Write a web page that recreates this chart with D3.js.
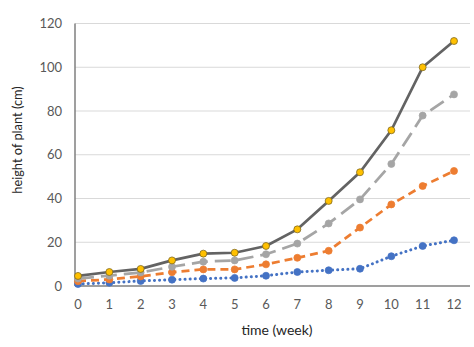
<!DOCTYPE html>
<html>
<head>
<meta charset="utf-8">
<script src="https://cdn.jsdelivr.net/npm/d3@7"></script>
<style>
  html, body { margin: 0; padding: 0; background: #fff; }
  svg text { font-family: Lato, "Open Sans", sans-serif; fill: #595959; }
</style>
</head>
<body>
<svg id="chart" width="474" height="347"></svg>
<script>
// weeks and plant heights (cm) for each series
const weeks = [0, 1, 2, 3, 4, 5, 6, 7, 8, 9, 10, 11, 12];
const blueHeights = [0.9, 1.5, 2.3, 2.9, 3.4, 3.7, 4.7, 6.4, 7.2, 7.9, 13.6, 18.3, 20.9];
const orangeHeights = [2.2, 3.0, 4.4, 6.3, 7.6, 7.6, 9.9, 12.9, 16.1, 26.7, 37.3, 45.7, 52.6];
const grayHeights = [3.4, 4.7, 6.2, 8.8, 11.1, 11.7, 14.5, 19.4, 28.6, 39.6, 55.8, 77.9, 87.6];
const darkHeights = [4.6, 6.4, 7.8, 11.7, 14.8, 15.2, 18.3, 25.9, 38.9, 52.0, 71.2, 100, 112];
const yTicks = [0, 20, 40, 60, 80, 100, 120];

const svg = d3.select("#chart");

const x = d3.scaleLinear().domain([0, 12]).range([78, 454]);
const y = d3.scaleLinear().domain([0, 120]).range([286, 23.5]);
const left = 75, right = 470;

// horizontal gridlines
svg.append("g")
   .selectAll("line")
   .data(yTicks.filter(d => d > 0))
   .join("line")
   .attr("x1", left).attr("x2", right)
   .attr("y1", d => y(d)).attr("y2", d => y(d))
   .attr("stroke", "#d9d9d9").attr("stroke-width", 1);

// y tick labels
svg.append("g")
   .selectAll("text")
   .data(yTicks)
   .join("text")
   .attr("x", 62)
   .attr("y", d => y(d))
   .attr("dy", "0.35em")
   .attr("text-anchor", "end")
   .attr("font-size", 13)
   .text(d => d);

// x tick labels
svg.append("g")
   .selectAll("text")
   .data(weeks)
   .join("text")
   .attr("x", d => x(d))
   .attr("y", 304)
   .attr("dy", "0.35em")
   .attr("text-anchor", "middle")
   .attr("font-size", 13)
   .text(d => d);

// axis lines
svg.append("line")
   .attr("x1", left).attr("x2", left)
   .attr("y1", y(120)).attr("y2", y(0))
   .attr("stroke", "#7f7f7f").attr("stroke-width", 1.5);
svg.append("line")
   .attr("x1", left).attr("x2", right)
   .attr("y1", y(0)).attr("y2", y(0))
   .attr("stroke", "#7f7f7f").attr("stroke-width", 1.5);

const series = [
  { values: blueHeights, color: "#4472C4", dash: "0.1,5", cap: "round", fill: "#4472C4", stroke: "#4472C4" },
  { values: orangeHeights, color: "#ED7D31", dash: "8,5", cap: "butt", fill: "#ED7D31", stroke: "#ED7D31" },
  { values: grayHeights, color: "#A5A5A5", dash: "16,7", cap: "butt", fill: "#A5A5A5", stroke: "#A5A5A5" },
  { values: darkHeights, color: "#636363", dash: null, cap: "butt", fill: "#FFC000", stroke: "#7a6420" }
];

const line = d3.line()
  .x((d, i) => x(weeks[i]))
  .y(d => y(d));

series.forEach(s => {
  svg.append("path")
     .datum(s.values)
     .attr("d", line)
     .attr("fill", "none")
     .attr("stroke", s.color)
     .attr("stroke-width", s.dash && s.cap === "round" ? 3 : 2.75)
     .attr("stroke-linecap", s.cap)
     .attr("stroke-linejoin", "round")
     .attr("stroke-dasharray", s.dash);

  svg.append("g")
     .selectAll("circle")
     .data(s.values)
     .join("circle")
     .attr("cx", (d, i) => x(weeks[i]))
     .attr("cy", d => y(d))
     .attr("r", 3.5)
     .attr("fill", s.fill)
     .attr("stroke", s.stroke)
     .attr("stroke-width", 0.75);
});

// axis titles
svg.append("text")
   .attr("x", 277)
   .attr("y", 330)
   .attr("dy", "0.35em")
   .attr("text-anchor", "middle")
   .attr("font-size", 14)
   .style("fill", "#262626")
   .text("time (week)");

svg.append("text")
   .attr("transform", "translate(18,140) rotate(-90)")
   .attr("dy", "0.35em")
   .attr("text-anchor", "middle")
   .attr("font-size", 12.8)
   .style("fill", "#262626")
   .text("height of plant (cm)");
</script>
</body>
</html>
